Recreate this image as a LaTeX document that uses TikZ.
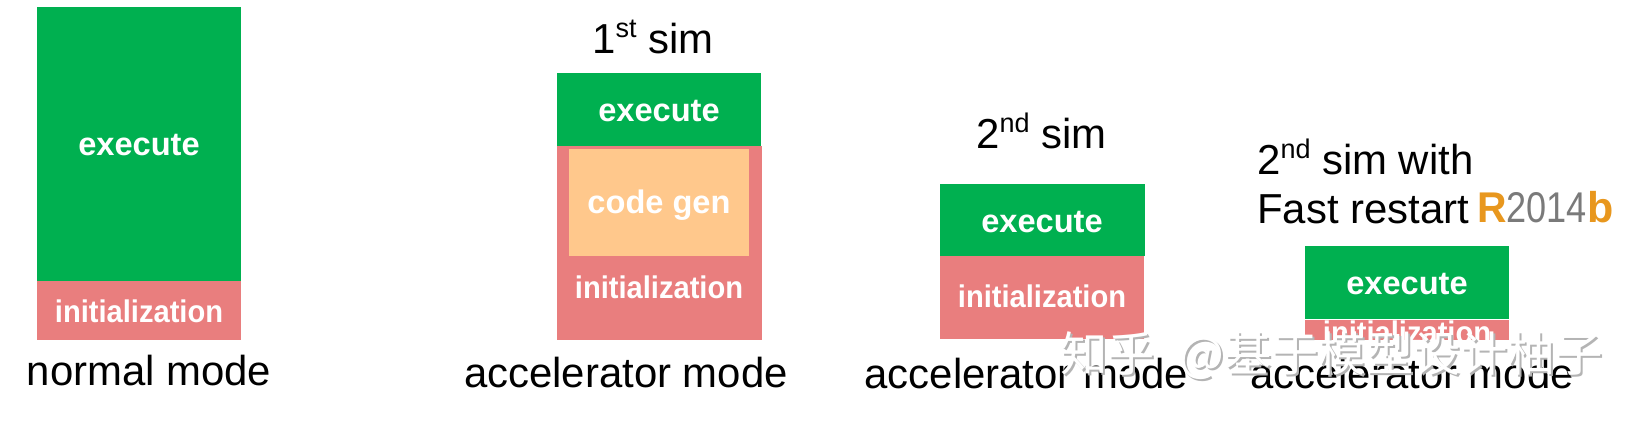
\documentclass[tikz,border=0pt]{standalone}
\usepackage{fontspec}
\setmainfont{Liberation Sans}
\newfontfamily\cjkwm{Noto Sans CJK SC}
\definecolor{gr}{HTML}{00B050}
\definecolor{pk}{HTML}{E97E7E}
\definecolor{lo}{HTML}{FFC88C}
\definecolor{logoo}{HTML}{E8971E}
\definecolor{logog}{HTML}{7A7A7A}
\definecolor{wmg}{HTML}{B4B4B4}
\newcommand{\fs}[1]{\fontsize{#1pt}{#1pt}\selectfont}
\newcommand{\wmtext}{知乎\hspace{0.52em}@基于模型设计柚子}
\newcommand{\supr}[1]{\raisebox{0.38em}{\fs{27}#1}}
\newcommand{\initxt}{\scalebox{.93}[1]{initialization}}
\tikzset{
  x=1pt,y=-1pt,
  lab/.style={inner sep=0pt,text=white,font=\fs{32.6}\bfseries,anchor=base},
  initlab/.style={inner sep=0pt,text=white,font=\fs{31.3}\bfseries,anchor=base},
  capt/.style={inner sep=0pt,text=black,font=\fs{41.9},anchor=base},
  capw/.style={inner sep=0pt,text=black,font=\fs{41.9},anchor=base west},
  wm/.style={inner sep=0pt,font=\fs{47.3}\cjkwm,anchor=base west},
}
\begin{document}
\begin{tikzpicture}
\useasboundingbox (0,0) rectangle (1644,424);
% normal
\fill[gr] (37,7) rectangle (241,281);
\fill[pk] (37,281) rectangle (241,340);
\node[lab] (e1) at (139,155) {execute};
\node[initlab] (i1) at (139,322) {\initxt};
\node[capt] (c1) at (149,385) {normal mode};
% first
\fill[pk] (557,146) rectangle (762,340);
\fill[gr] (557,73) rectangle (761,146);
\fill[lo] (569,149) rectangle (749,256);
\node[lab] (e2) at (659,121) {execute};
\node[lab] (g2) at (659,213) {code gen};
\node[initlab] (i2) at (659,298) {\initxt};
\node[capt] (c2) at (626,387) {accelerator mode};
\node[capw] (t2) at (592,53) {1\supr{st} sim};
% second
\fill[pk] (940,256) rectangle (1144,339);
\fill[gr] (940,184) rectangle (1145,256);
\node[lab] (e3) at (1042,232) {execute};
\node[initlab] (i3) at (1042,307) {\initxt};
\node[capt] (c3) at (1026.5,388) {accelerator mode};
\node[capw] (t3) at (976,148) {2\supr{nd} sim};
% third
\fill[gr] (1305,246) rectangle (1509,319);
\fill[pk] (1305,320) rectangle (1509,340);
\node[lab] (e4) at (1407,294) {execute};
\node[initlab] (i4) at (1407,343) {\initxt};
\node[capt] (c4) at (1412,388) {accelerator mode};
\node[capw] (t4) at (1257,174) {2\supr{nd} sim with};
\node[capw] (t5) at (1257,223) {Fast restart};
\node[inner sep=0pt,anchor=base west,font=\fs{43}] (logo) at (1477,222) {\textcolor{logoo}{\bfseries\scalebox{.95}[1]{R}}\textcolor{logog}{\scalebox{.84}[1]{2014}}\textcolor{logoo}{\bfseries b}};
% watermark
\node[wm,text=wmg] (w0) at (1062,373) {\wmtext};
\node[wm,text=white] (w1) at (1060,371) {\wmtext};
\end{tikzpicture}
\end{document}
